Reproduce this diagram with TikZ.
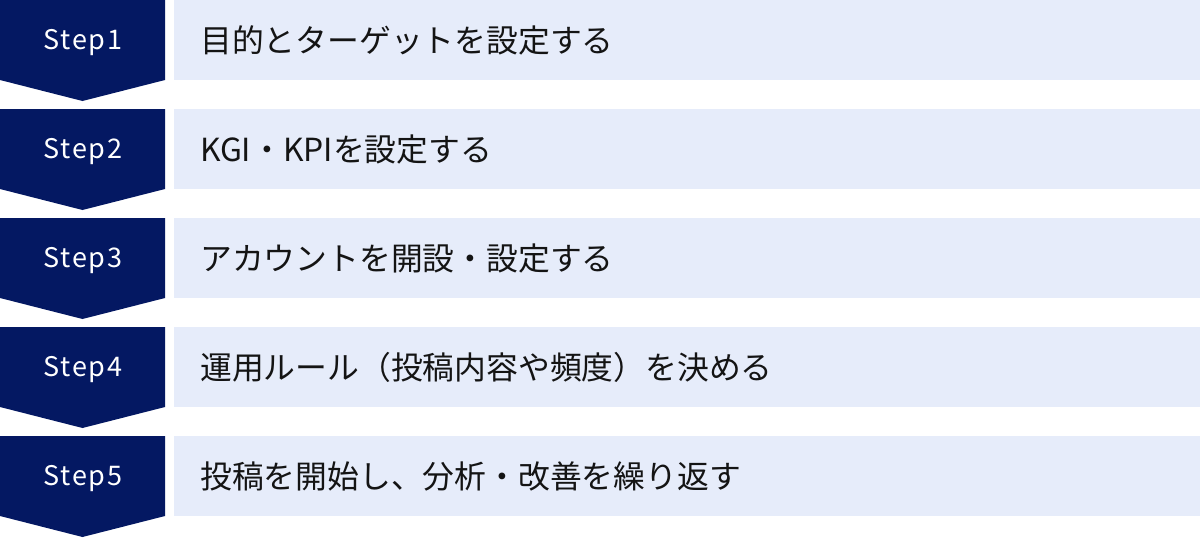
\documentclass[tikz,border=0pt]{standalone}
\usepackage{fontspec}
\setmainfont{Noto Sans CJK JP}
\newfontfamily\stepfont[LetterSpace=6]{Noto Sans CJK JP}
\definecolor{navy}{RGB}{4,24,98}
\definecolor{pale}{RGB}{230,236,250}
\definecolor{ink}{RGB}{20,20,20}
\tikzset{
  stepshape/.style={fill=navy, draw=none},
  barshape/.style={fill=pale, draw=none},
  steplabel/.style={text=white, font=\stepfont\fontsize{27}{32}\selectfont, inner sep=0pt, anchor=center},
  barlabel/.style={text=ink, font=\fontsize{31.8}{36}\selectfont, inner sep=0pt, anchor=west},
}
\begin{document}
\begin{tikzpicture}[x=1pt,y=-1pt]
\useasboundingbox (0,0) rectangle (1200,538);
\foreach \i/\txt in {1/目的とターゲットを設定する, 2/KGI・KPIを設定する, 3/アカウントを開設・設定する, 4/運用ルール（投稿内容や頻度）を決める, 5/投稿を開始し、分析・改善を繰り返す}{
  \pgfmathsetmacro{\top}{(\i-1)*109}
  \fill[stepshape] (0,\top) -- (165,\top) -- (165,\top+80) -- (82.5,\top+101) -- (0,\top+80) -- cycle;
  \fill[barshape] (174,\top) rectangle (1200,\top+80);
  \node[steplabel] (s\i) at (83,\top+42.5) {Step\i};
  \node[barlabel] (b\i) at (200,\top+40.5) {\txt};
}
\end{tikzpicture}
\end{document}
